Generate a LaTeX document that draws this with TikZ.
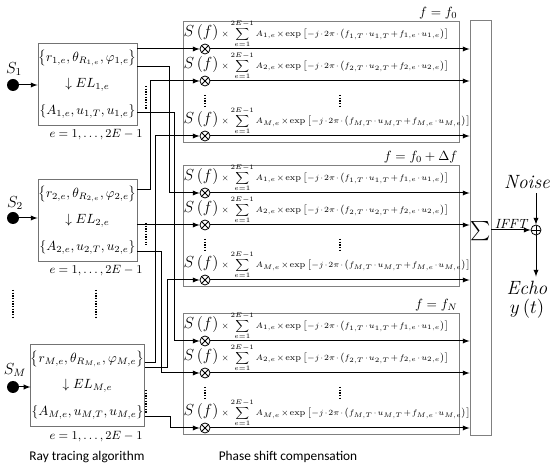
\documentclass[tikz,border=0pt]{standalone}
\usepackage{fontspec}
\usepackage{amsmath}
\newfontfamily\capfont{Carlito}
\usetikzlibrary{calc}
\tikzset{
  frame/.style={draw=black!50, line width=0.7pt},
  raybox/.style={draw=black!55, line width=0.7pt, minimum width=74.25pt, minimum height=61.5pt, inner sep=0pt, align=center},
  sig/.style={->, >=latex, line width=0.75pt},
  dotline/.style={line width=1.6pt, dash pattern=on 1pt off 1pt},
  mult/.style={circle, draw, line width=0.6pt, minimum size=7.5pt, inner sep=0pt,
    path picture={\draw[line width=0.6pt] (path picture bounding box.south west) -- (path picture bounding box.north east)
      (path picture bounding box.north west) -- (path picture bounding box.south east);}},
  adder/.style={circle, draw, line width=0.6pt, minimum size=7.5pt, inner sep=0pt,
    path picture={\draw[line width=0.6pt] (path picture bounding box.north) -- (path picture bounding box.south)
      (path picture bounding box.west) -- (path picture bounding box.east);}},
}
% one row of a frequency group: node name, y of the arrow, index
\def\phaserow#1#2#3{%
  \node[mult] (#1) at (205,#2) {};
  \node[font=\large, inner sep=0pt] (#1s) at (201,#2-16) {$S\left(f\right)$};
  \node[anchor=west, inner sep=0pt, font=\fontsize{6.4pt}{7pt}\selectfont] (#1e) at (221,#2-15) {\medmuskip=1.5mu $\times\displaystyle\sum_{e=1}^{2E-1}A_{#3,e}\times\exp\left[-j\cdot 2\pi\cdot\left(f_{#3,T}\cdot u_{#3,T}+f_{#3,e}\cdot u_{#3,e}\right)\right]$};
  \draw[sig] (#1) -- (#1 -| sumbox.west);
}
% a frequency group: name, top y, label
\def\phasegroup#1#2#3{%
  \draw[frame] (183,#2) rectangle (459,#2+121);
  \node[anchor=east, inner sep=1pt] (#1lab) at (459,#2-8) {#3};
  \phaserow{#1a}{#2+28}{1}
  \phaserow{#1b}{#2+60}{2}
  \phaserow{#1m}{#2+115}{M}
  \draw[dotline] (205,#2+74) -- (205,#2+86);
  \draw[dotline] (340,#2+74) -- (340,#2+86);
}

\begin{document}
\begin{tikzpicture}[x=0.75pt,y=-0.75pt]
  \useasboundingbox (0,0) rectangle (550,466);

  %%%%% summation and output %%%%%
  \node[frame, minimum width=15.75pt, minimum height=311.25pt, inner sep=0pt] (sumbox) at (480.5,227.5) {};
  \node[font=\Large, inner sep=0pt] (sigma) at (481,231) {$\sum$};
  \node[adder] (add) at (536,230) {};
  \draw[sig] (sumbox.east |- add) -- node[above, inner sep=0.5pt, font=\itshape] (ifft) {IFFT} (add);
  \node[font=\Large\itshape] (noise) at (527,182) {Noise};
  \node[font=\Large\itshape] (echo) at (527,288) {Echo};
  \node[font=\Large] (yt) at (527,309) {$y\left(t\right)$};
  \draw[sig] (noise.south -| add) -- (add);
  \draw[sig] (add) -- (echo.north -| add);

  %%%%% phase shift groups %%%%%
  \phasegroup{g1}{21}{$f=f_0$}
  \phasegroup{g2}{165}{$f=f_0+\Delta f$}
  \phasegroup{g3}{313}{$f=f_N$}

  %%%%% ray tracing %%%%%
  \node[raybox] (box1) at (87.5,84) {$\left\{r_{1,e},\theta_{R_{1,e}},\varphi_{1,e}\right\}$\\[8pt] $\downarrow EL_{1,e}$\\[8pt] $\left\{A_{1,e},u_{1,T},u_{1,e}\right\}$};
  \node[raybox] (box2) at (87.5,220) {$\left\{r_{2,e},\theta_{R_{2,e}},\varphi_{2,e}\right\}$\\[8pt] $\downarrow EL_{2,e}$\\[8pt] $\left\{A_{2,e},u_{2,T},u_{2,e}\right\}$};
  \node[raybox] (box3) at (87.5,385) {$\left\{r_{M,e},\theta_{R_{M,e}},\varphi_{M,e}\right\}$\\[8pt] $\downarrow EL_{M,e}$\\[8pt] $\left\{A_{M,e},u_{M,T},u_{M,e}\right\}$};
  \node[font=\small] (rng1) at (96,135) {$e=1,\ldots,2E-1$};
  \node[font=\small] (rng2) at (96,271) {$e=1,\ldots,2E-1$};
  \node[font=\small] (rng3) at (96,437) {$e=1,\ldots,2E-1$};

  \node[circle, fill, minimum size=9pt, inner sep=0pt] (src1) at (13,85) {};
  \node[circle, fill, minimum size=9pt, inner sep=0pt] (src2) at (13,218) {};
  \node[circle, fill, minimum size=9pt, inner sep=0pt] (src3) at (13,387) {};
  \node[font=\large] (s1) at (14,69) {$S_1$};
  \node[font=\large] (s2) at (15,203) {$S_2$};
  \node[font=\large] (s3) at (15,370) {$S_M$};
  \draw[sig] (src1) -- (src1 -| box1.west);
  \draw[sig] (src2) -- (src2 -| box2.west);
  \draw[sig] (src3) -- (src3 -| box3.west);

  \draw[dotline] (13,290) -- (13,317);
  \draw[dotline] (96,290) -- (96,317);
  \draw[dotline] (146,86) -- (146,110);
  \draw[dotline] (146,223) -- (146,245);
  \draw[dotline] (146,390) -- (146,413);

  %%%%% wiring %%%%%
  \draw[sig] (box1.east |- g1a) -- (g1a);
  \draw[sig] (box1.east |- 0,67) -- (169,67) |- (g2a);
  \draw[sig] (box1.east |- 0,113) -- (174,113) |- (g3a);
  \draw[sig] (box2.east |- 0,190) -- (150,190) |- (g1b);
  \draw[sig] (box2.east |- g2b) -- (g2b);
  \draw[sig] (box2.east |- 0,252) -- (161,252) |- (g3b);
  \draw[sig] (box3.east |- 0,363) -- (155,363) |- (g1m);
  \draw[sig] (box3.east |- 0,368) -- (167,368) |- (g2m);
  \draw[sig] (box3.east |- 0,417) -- (170,417) |- (g3m);

  \node[font=\capfont] (cap1) at (87,457) {Ray tracing algorithm};
  \node[font=\capfont] (cap2) at (288,457) {Phase shift compensation};
\end{tikzpicture}
\end{document}
